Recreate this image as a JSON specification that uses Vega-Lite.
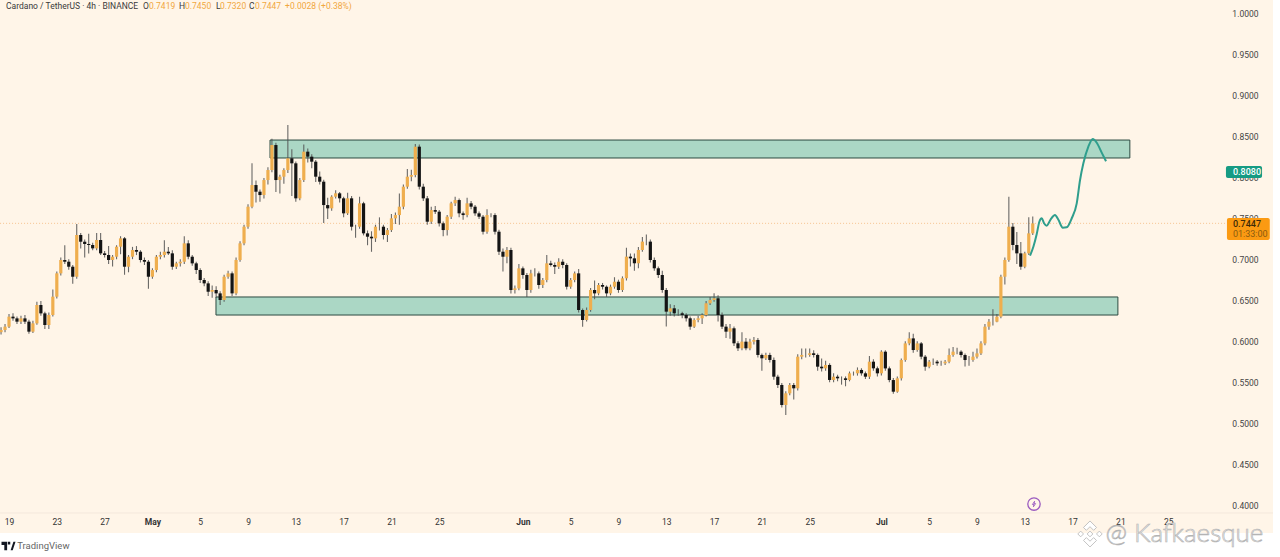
{
"$schema":"https://vega.github.io/schema/vega-lite/v6.json",
"width":1273,"height":533,
"autosize":{"type":"none"},
"padding":{"left":0,"top":0,"right":7,"bottom":24},
"background":"#ffffff",
"view":{"fill":"#FFF5E8","stroke":null},
"config":{"axis":{"title":null,"grid":false,"domain":false,"ticks":false,"tickSize":0},"text":{"font":"Roboto"}},
"datasets":{
"zones":[
{"name":"upper","t0":"2025-05-10T20:10Z","t1":"2025-07-21T19:00Z","p0":0.8463,"p1":0.8244},
{"name":"lower","t0":"2025-05-06T07:40Z","t1":"2025-07-20T19:00Z","p0":0.6549,"p1":0.6329}],
"last":[{"t0":"2025-04-18T06:00Z","t1":"2025-07-29T22:00Z","p":0.7447}],
"paneEdge":[{"t0":"2025-04-18T06:00Z","t1":"2025-08-02T18:30Z","p":0.3915}],
"candles":[
{"t":"2025-04-18T08:00Z","o":0.6120,"h":0.618,"l":0.609,"c":0.6146},
{"t":"2025-04-18T16:00Z","o":0.6146,"h":0.622,"l":0.612,"c":0.6187},
{"t":"2025-04-19T00:00Z","o":0.6187,"h":0.634,"l":0.617,"c":0.6309},
{"t":"2025-04-19T08:00Z","o":0.6309,"h":0.635,"l":0.626,"c":0.6288},
{"t":"2025-04-19T16:00Z","o":0.6288,"h":0.631,"l":0.622,"c":0.6248},
{"t":"2025-04-20T00:00Z","o":0.6248,"h":0.632,"l":0.622,"c":0.6288},
{"t":"2025-04-20T08:00Z","o":0.6288,"h":0.633,"l":0.622,"c":0.6248},
{"t":"2025-04-20T16:00Z","o":0.6248,"h":0.627,"l":0.610,"c":0.6126},
{"t":"2025-04-21T00:00Z","o":0.6126,"h":0.626,"l":0.611,"c":0.6227},
{"t":"2025-04-21T08:00Z","o":0.6227,"h":0.649,"l":0.621,"c":0.6451},
{"t":"2025-04-21T16:00Z","o":0.6451,"h":0.650,"l":0.632,"c":0.6349},
{"t":"2025-04-22T00:00Z","o":0.6349,"h":0.637,"l":0.616,"c":0.6207},
{"t":"2025-04-22T08:00Z","o":0.6207,"h":0.636,"l":0.616,"c":0.6329},
{"t":"2025-04-22T16:00Z","o":0.6329,"h":0.664,"l":0.631,"c":0.6553},
{"t":"2025-04-23T00:00Z","o":0.6553,"h":0.686,"l":0.653,"c":0.6837},
{"t":"2025-04-23T08:00Z","o":0.6837,"h":0.703,"l":0.681,"c":0.7000},
{"t":"2025-04-23T16:00Z","o":0.7000,"h":0.718,"l":0.695,"c":0.6979},
{"t":"2025-04-24T00:00Z","o":0.6979,"h":0.701,"l":0.688,"c":0.6918},
{"t":"2025-04-24T08:00Z","o":0.6918,"h":0.694,"l":0.671,"c":0.6796},
{"t":"2025-04-24T16:00Z","o":0.6796,"h":0.744,"l":0.677,"c":0.7305},
{"t":"2025-04-25T00:00Z","o":0.7305,"h":0.733,"l":0.714,"c":0.7223},
{"t":"2025-04-25T08:00Z","o":0.7223,"h":0.725,"l":0.703,"c":0.7195},
{"t":"2025-04-25T16:00Z","o":0.7195,"h":0.732,"l":0.708,"c":0.7183},
{"t":"2025-04-26T00:00Z","o":0.7183,"h":0.721,"l":0.712,"c":0.7142},
{"t":"2025-04-26T08:00Z","o":0.7142,"h":0.733,"l":0.712,"c":0.7244},
{"t":"2025-04-26T16:00Z","o":0.7244,"h":0.733,"l":0.706,"c":0.7081},
{"t":"2025-04-27T00:00Z","o":0.7081,"h":0.711,"l":0.703,"c":0.7061},
{"t":"2025-04-27T08:00Z","o":0.7061,"h":0.717,"l":0.695,"c":0.7000},
{"t":"2025-04-27T16:00Z","o":0.7000,"h":0.706,"l":0.692,"c":0.7040},
{"t":"2025-04-28T00:00Z","o":0.7040,"h":0.718,"l":0.701,"c":0.7162},
{"t":"2025-04-28T08:00Z","o":0.7162,"h":0.729,"l":0.707,"c":0.7264},
{"t":"2025-04-28T16:00Z","o":0.7264,"h":0.728,"l":0.682,"c":0.6918},
{"t":"2025-04-29T00:00Z","o":0.6918,"h":0.706,"l":0.685,"c":0.7040},
{"t":"2025-04-29T08:00Z","o":0.7040,"h":0.716,"l":0.701,"c":0.7122},
{"t":"2025-04-29T16:00Z","o":0.7122,"h":0.717,"l":0.706,"c":0.7101},
{"t":"2025-04-30T00:00Z","o":0.7101,"h":0.712,"l":0.697,"c":0.7000},
{"t":"2025-04-30T08:00Z","o":0.7000,"h":0.703,"l":0.694,"c":0.6979},
{"t":"2025-04-30T16:00Z","o":0.6979,"h":0.700,"l":0.665,"c":0.6796},
{"t":"2025-05-01T00:00Z","o":0.6796,"h":0.690,"l":0.677,"c":0.6878},
{"t":"2025-05-01T08:00Z","o":0.6878,"h":0.706,"l":0.685,"c":0.7040},
{"t":"2025-05-01T16:00Z","o":0.7040,"h":0.710,"l":0.701,"c":0.7061},
{"t":"2025-05-02T00:00Z","o":0.7061,"h":0.724,"l":0.703,"c":0.7101},
{"t":"2025-05-02T08:00Z","o":0.7101,"h":0.716,"l":0.706,"c":0.7081},
{"t":"2025-05-02T16:00Z","o":0.7081,"h":0.712,"l":0.688,"c":0.6918},
{"t":"2025-05-03T00:00Z","o":0.6918,"h":0.698,"l":0.689,"c":0.6959},
{"t":"2025-05-03T08:00Z","o":0.6959,"h":0.701,"l":0.692,"c":0.6979},
{"t":"2025-05-03T16:00Z","o":0.6979,"h":0.729,"l":0.695,"c":0.7203},
{"t":"2025-05-04T00:00Z","o":0.7203,"h":0.724,"l":0.701,"c":0.7040},
{"t":"2025-05-04T08:00Z","o":0.7040,"h":0.706,"l":0.693,"c":0.6959},
{"t":"2025-05-04T16:00Z","o":0.6959,"h":0.698,"l":0.683,"c":0.6878},
{"t":"2025-05-05T00:00Z","o":0.6878,"h":0.690,"l":0.672,"c":0.6756},
{"t":"2025-05-05T08:00Z","o":0.6756,"h":0.678,"l":0.668,"c":0.6715},
{"t":"2025-05-05T16:00Z","o":0.6715,"h":0.674,"l":0.656,"c":0.6613},
{"t":"2025-05-06T00:00Z","o":0.6613,"h":0.669,"l":0.654,"c":0.6634},
{"t":"2025-05-06T08:00Z","o":0.6634,"h":0.668,"l":0.654,"c":0.6593},
{"t":"2025-05-06T16:00Z","o":0.6593,"h":0.662,"l":0.645,"c":0.6512},
{"t":"2025-05-07T00:00Z","o":0.6512,"h":0.682,"l":0.649,"c":0.6796},
{"t":"2025-05-07T08:00Z","o":0.6796,"h":0.687,"l":0.677,"c":0.6837},
{"t":"2025-05-07T16:00Z","o":0.6837,"h":0.686,"l":0.656,"c":0.6593},
{"t":"2025-05-08T00:00Z","o":0.6593,"h":0.703,"l":0.657,"c":0.7000},
{"t":"2025-05-08T08:00Z","o":0.7000,"h":0.723,"l":0.698,"c":0.7203},
{"t":"2025-05-08T16:00Z","o":0.7203,"h":0.743,"l":0.718,"c":0.7406},
{"t":"2025-05-09T00:00Z","o":0.7406,"h":0.768,"l":0.738,"c":0.7650},
{"t":"2025-05-09T08:00Z","o":0.7650,"h":0.818,"l":0.763,"c":0.7914},
{"t":"2025-05-09T16:00Z","o":0.7914,"h":0.797,"l":0.770,"c":0.7833},
{"t":"2025-05-10T00:00Z","o":0.7833,"h":0.786,"l":0.771,"c":0.7792},
{"t":"2025-05-10T08:00Z","o":0.7792,"h":0.800,"l":0.775,"c":0.7975},
{"t":"2025-05-10T16:00Z","o":0.7975,"h":0.813,"l":0.792,"c":0.8097},
{"t":"2025-05-11T00:00Z","o":0.8097,"h":0.848,"l":0.807,"c":0.8402},
{"t":"2025-05-11T08:00Z","o":0.8402,"h":0.843,"l":0.783,"c":0.7975},
{"t":"2025-05-11T16:00Z","o":0.7975,"h":0.804,"l":0.781,"c":0.8016},
{"t":"2025-05-12T00:00Z","o":0.8016,"h":0.812,"l":0.793,"c":0.8097},
{"t":"2025-05-12T08:00Z","o":0.8097,"h":0.8646,"l":0.806,"c":0.8240},
{"t":"2025-05-12T16:00Z","o":0.8240,"h":0.835,"l":0.778,"c":0.8179},
{"t":"2025-05-13T00:00Z","o":0.8179,"h":0.820,"l":0.771,"c":0.7752},
{"t":"2025-05-13T08:00Z","o":0.7752,"h":0.800,"l":0.773,"c":0.7975},
{"t":"2025-05-13T16:00Z","o":0.7975,"h":0.841,"l":0.795,"c":0.8321},
{"t":"2025-05-14T00:00Z","o":0.8321,"h":0.836,"l":0.819,"c":0.8260},
{"t":"2025-05-14T08:00Z","o":0.8260,"h":0.829,"l":0.812,"c":0.8199},
{"t":"2025-05-14T16:00Z","o":0.8199,"h":0.822,"l":0.795,"c":0.8016},
{"t":"2025-05-15T00:00Z","o":0.8016,"h":0.808,"l":0.792,"c":0.7955},
{"t":"2025-05-15T08:00Z","o":0.7955,"h":0.798,"l":0.745,"c":0.7670},
{"t":"2025-05-15T16:00Z","o":0.7670,"h":0.776,"l":0.750,"c":0.7630},
{"t":"2025-05-16T00:00Z","o":0.7630,"h":0.779,"l":0.760,"c":0.7772},
{"t":"2025-05-16T08:00Z","o":0.7772,"h":0.785,"l":0.775,"c":0.7813},
{"t":"2025-05-16T16:00Z","o":0.7813,"h":0.783,"l":0.770,"c":0.7752},
{"t":"2025-05-17T00:00Z","o":0.7752,"h":0.777,"l":0.752,"c":0.7569},
{"t":"2025-05-17T08:00Z","o":0.7569,"h":0.782,"l":0.755,"c":0.7752},
{"t":"2025-05-17T16:00Z","o":0.7752,"h":0.778,"l":0.736,"c":0.7406},
{"t":"2025-05-18T00:00Z","o":0.7406,"h":0.743,"l":0.727,"c":0.7406},
{"t":"2025-05-18T08:00Z","o":0.7406,"h":0.777,"l":0.738,"c":0.7691},
{"t":"2025-05-18T16:00Z","o":0.7691,"h":0.771,"l":0.730,"c":0.7325},
{"t":"2025-05-19T00:00Z","o":0.7325,"h":0.736,"l":0.718,"c":0.7284},
{"t":"2025-05-19T08:00Z","o":0.7284,"h":0.735,"l":0.710,"c":0.7264},
{"t":"2025-05-19T16:00Z","o":0.7264,"h":0.743,"l":0.722,"c":0.7406},
{"t":"2025-05-20T00:00Z","o":0.7406,"h":0.752,"l":0.736,"c":0.7406},
{"t":"2025-05-20T08:00Z","o":0.7406,"h":0.743,"l":0.725,"c":0.7305},
{"t":"2025-05-20T16:00Z","o":0.7305,"h":0.739,"l":0.722,"c":0.7365},
{"t":"2025-05-21T00:00Z","o":0.7365,"h":0.756,"l":0.734,"c":0.7508},
{"t":"2025-05-21T08:00Z","o":0.7508,"h":0.758,"l":0.744,"c":0.7548},
{"t":"2025-05-21T16:00Z","o":0.7548,"h":0.781,"l":0.743,"c":0.7650},
{"t":"2025-05-22T00:00Z","o":0.7650,"h":0.792,"l":0.762,"c":0.7894},
{"t":"2025-05-22T08:00Z","o":0.7894,"h":0.811,"l":0.787,"c":0.8016},
{"t":"2025-05-22T16:00Z","o":0.8016,"h":0.810,"l":0.796,"c":0.8036},
{"t":"2025-05-23T00:00Z","o":0.8036,"h":0.8414,"l":0.801,"c":0.8382},
{"t":"2025-05-23T08:00Z","o":0.8382,"h":0.841,"l":0.786,"c":0.7894},
{"t":"2025-05-23T16:00Z","o":0.7894,"h":0.793,"l":0.772,"c":0.7752},
{"t":"2025-05-24T00:00Z","o":0.7752,"h":0.778,"l":0.743,"c":0.7467},
{"t":"2025-05-24T08:00Z","o":0.7467,"h":0.765,"l":0.744,"c":0.7609},
{"t":"2025-05-24T16:00Z","o":0.7609,"h":0.766,"l":0.756,"c":0.7589},
{"t":"2025-05-25T00:00Z","o":0.7589,"h":0.761,"l":0.741,"c":0.7447},
{"t":"2025-05-25T08:00Z","o":0.7447,"h":0.747,"l":0.729,"c":0.7365},
{"t":"2025-05-25T16:00Z","o":0.7365,"h":0.755,"l":0.730,"c":0.7528},
{"t":"2025-05-26T00:00Z","o":0.7528,"h":0.771,"l":0.750,"c":0.7691},
{"t":"2025-05-26T08:00Z","o":0.7691,"h":0.777,"l":0.766,"c":0.7731},
{"t":"2025-05-26T16:00Z","o":0.7731,"h":0.775,"l":0.752,"c":0.7569},
{"t":"2025-05-27T00:00Z","o":0.7569,"h":0.759,"l":0.749,"c":0.7548},
{"t":"2025-05-27T08:00Z","o":0.7548,"h":0.776,"l":0.752,"c":0.7691},
{"t":"2025-05-27T16:00Z","o":0.7691,"h":0.772,"l":0.762,"c":0.7650},
{"t":"2025-05-28T00:00Z","o":0.7650,"h":0.767,"l":0.754,"c":0.7569},
{"t":"2025-05-28T08:00Z","o":0.7569,"h":0.759,"l":0.750,"c":0.7528},
{"t":"2025-05-28T16:00Z","o":0.7528,"h":0.755,"l":0.731,"c":0.7345},
{"t":"2025-05-29T00:00Z","o":0.7345,"h":0.762,"l":0.732,"c":0.7548},
{"t":"2025-05-29T08:00Z","o":0.7548,"h":0.757,"l":0.752,"c":0.7548},
{"t":"2025-05-29T16:00Z","o":0.7548,"h":0.757,"l":0.731,"c":0.7345},
{"t":"2025-05-30T00:00Z","o":0.7345,"h":0.737,"l":0.706,"c":0.7101},
{"t":"2025-05-30T08:00Z","o":0.7101,"h":0.714,"l":0.686,"c":0.7040},
{"t":"2025-05-30T16:00Z","o":0.7040,"h":0.716,"l":0.696,"c":0.7122},
{"t":"2025-05-31T00:00Z","o":0.7122,"h":0.715,"l":0.659,"c":0.6634},
{"t":"2025-05-31T08:00Z","o":0.6634,"h":0.669,"l":0.659,"c":0.6654},
{"t":"2025-05-31T16:00Z","o":0.6654,"h":0.695,"l":0.663,"c":0.6898},
{"t":"2025-06-01T00:00Z","o":0.6898,"h":0.692,"l":0.677,"c":0.6817},
{"t":"2025-06-01T08:00Z","o":0.6817,"h":0.684,"l":0.655,"c":0.6634},
{"t":"2025-06-01T16:00Z","o":0.6634,"h":0.688,"l":0.660,"c":0.6837},
{"t":"2025-06-02T00:00Z","o":0.6837,"h":0.690,"l":0.680,"c":0.6837},
{"t":"2025-06-02T08:00Z","o":0.6837,"h":0.686,"l":0.665,"c":0.6695},
{"t":"2025-06-02T16:00Z","o":0.6695,"h":0.678,"l":0.666,"c":0.6756},
{"t":"2025-06-03T00:00Z","o":0.6756,"h":0.706,"l":0.673,"c":0.6959},
{"t":"2025-06-03T08:00Z","o":0.6959,"h":0.699,"l":0.692,"c":0.6939},
{"t":"2025-06-03T16:00Z","o":0.6939,"h":0.697,"l":0.683,"c":0.6918},
{"t":"2025-06-04T00:00Z","o":0.6918,"h":0.702,"l":0.689,"c":0.6979},
{"t":"2025-06-04T08:00Z","o":0.6979,"h":0.701,"l":0.690,"c":0.6939},
{"t":"2025-06-04T16:00Z","o":0.6939,"h":0.696,"l":0.664,"c":0.6674},
{"t":"2025-06-05T00:00Z","o":0.6674,"h":0.678,"l":0.665,"c":0.6756},
{"t":"2025-06-05T08:00Z","o":0.6756,"h":0.686,"l":0.673,"c":0.6837},
{"t":"2025-06-05T16:00Z","o":0.6837,"h":0.689,"l":0.636,"c":0.6390},
{"t":"2025-06-06T00:00Z","o":0.6390,"h":0.641,"l":0.6187,"c":0.6268},
{"t":"2025-06-06T08:00Z","o":0.6268,"h":0.642,"l":0.625,"c":0.6390},
{"t":"2025-06-06T16:00Z","o":0.6390,"h":0.666,"l":0.637,"c":0.6634},
{"t":"2025-06-07T00:00Z","o":0.6634,"h":0.675,"l":0.652,"c":0.6593},
{"t":"2025-06-07T08:00Z","o":0.6593,"h":0.672,"l":0.657,"c":0.6695},
{"t":"2025-06-07T16:00Z","o":0.6695,"h":0.672,"l":0.664,"c":0.6674},
{"t":"2025-06-08T00:00Z","o":0.6674,"h":0.669,"l":0.655,"c":0.6593},
{"t":"2025-06-08T08:00Z","o":0.6593,"h":0.670,"l":0.657,"c":0.6674},
{"t":"2025-06-08T16:00Z","o":0.6674,"h":0.679,"l":0.665,"c":0.6735},
{"t":"2025-06-09T00:00Z","o":0.6735,"h":0.676,"l":0.660,"c":0.6634},
{"t":"2025-06-09T08:00Z","o":0.6634,"h":0.680,"l":0.661,"c":0.6777},
{"t":"2025-06-09T16:00Z","o":0.6777,"h":0.715,"l":0.675,"c":0.7041},
{"t":"2025-06-10T00:00Z","o":0.7041,"h":0.708,"l":0.692,"c":0.7020},
{"t":"2025-06-10T08:00Z","o":0.7020,"h":0.708,"l":0.687,"c":0.6960},
{"t":"2025-06-10T16:00Z","o":0.6960,"h":0.716,"l":0.690,"c":0.7122},
{"t":"2025-06-11T00:00Z","o":0.7122,"h":0.728,"l":0.710,"c":0.7224},
{"t":"2025-06-11T08:00Z","o":0.7224,"h":0.731,"l":0.718,"c":0.7224},
{"t":"2025-06-11T16:00Z","o":0.7224,"h":0.725,"l":0.697,"c":0.7000},
{"t":"2025-06-12T00:00Z","o":0.7000,"h":0.703,"l":0.687,"c":0.6899},
{"t":"2025-06-12T08:00Z","o":0.6899,"h":0.692,"l":0.678,"c":0.6817},
{"t":"2025-06-12T16:00Z","o":0.6817,"h":0.687,"l":0.660,"c":0.6634},
{"t":"2025-06-13T00:00Z","o":0.6634,"h":0.666,"l":0.619,"c":0.6370},
{"t":"2025-06-13T08:00Z","o":0.6370,"h":0.646,"l":0.632,"c":0.6411},
{"t":"2025-06-13T16:00Z","o":0.6411,"h":0.645,"l":0.631,"c":0.6350},
{"t":"2025-06-14T00:00Z","o":0.6350,"h":0.640,"l":0.632,"c":0.6350},
{"t":"2025-06-14T08:00Z","o":0.6350,"h":0.637,"l":0.629,"c":0.6330},
{"t":"2025-06-14T16:00Z","o":0.6330,"h":0.635,"l":0.625,"c":0.6289},
{"t":"2025-06-15T00:00Z","o":0.6289,"h":0.631,"l":0.615,"c":0.6187},
{"t":"2025-06-15T08:00Z","o":0.6187,"h":0.629,"l":0.617,"c":0.6269},
{"t":"2025-06-15T16:00Z","o":0.6269,"h":0.632,"l":0.624,"c":0.6289},
{"t":"2025-06-16T00:00Z","o":0.6289,"h":0.635,"l":0.622,"c":0.6329},
{"t":"2025-06-16T08:00Z","o":0.6329,"h":0.650,"l":0.631,"c":0.6472},
{"t":"2025-06-16T16:00Z","o":0.6472,"h":0.655,"l":0.645,"c":0.6512},
{"t":"2025-06-17T00:00Z","o":0.6512,"h":0.6595,"l":0.649,"c":0.6533},
{"t":"2025-06-17T08:00Z","o":0.6533,"h":0.657,"l":0.625,"c":0.6329},
{"t":"2025-06-17T16:00Z","o":0.6329,"h":0.636,"l":0.616,"c":0.6187},
{"t":"2025-06-18T00:00Z","o":0.6187,"h":0.622,"l":0.605,"c":0.6126},
{"t":"2025-06-18T08:00Z","o":0.6126,"h":0.622,"l":0.604,"c":0.6167},
{"t":"2025-06-18T16:00Z","o":0.6167,"h":0.619,"l":0.595,"c":0.5984},
{"t":"2025-06-19T00:00Z","o":0.5984,"h":0.601,"l":0.589,"c":0.5923},
{"t":"2025-06-19T08:00Z","o":0.5923,"h":0.612,"l":0.590,"c":0.6004},
{"t":"2025-06-19T16:00Z","o":0.6004,"h":0.605,"l":0.590,"c":0.5923},
{"t":"2025-06-20T00:00Z","o":0.5923,"h":0.604,"l":0.590,"c":0.6004},
{"t":"2025-06-20T08:00Z","o":0.6004,"h":0.606,"l":0.597,"c":0.6025},
{"t":"2025-06-20T16:00Z","o":0.6025,"h":0.605,"l":0.581,"c":0.5842},
{"t":"2025-06-21T00:00Z","o":0.5842,"h":0.586,"l":0.565,"c":0.5801},
{"t":"2025-06-21T08:00Z","o":0.5801,"h":0.587,"l":0.578,"c":0.5842},
{"t":"2025-06-21T16:00Z","o":0.5842,"h":0.587,"l":0.575,"c":0.5781},
{"t":"2025-06-22T00:00Z","o":0.5781,"h":0.581,"l":0.554,"c":0.5577},
{"t":"2025-06-22T08:00Z","o":0.5577,"h":0.560,"l":0.544,"c":0.5476},
{"t":"2025-06-22T16:00Z","o":0.5476,"h":0.550,"l":0.520,"c":0.5232},
{"t":"2025-06-23T00:00Z","o":0.5232,"h":0.540,"l":0.511,"c":0.5374},
{"t":"2025-06-23T08:00Z","o":0.5374,"h":0.550,"l":0.535,"c":0.5476},
{"t":"2025-06-23T16:00Z","o":0.5476,"h":0.550,"l":0.530,"c":0.5435},
{"t":"2025-06-24T00:00Z","o":0.5435,"h":0.585,"l":0.541,"c":0.5821},
{"t":"2025-06-24T08:00Z","o":0.5821,"h":0.592,"l":0.579,"c":0.5842},
{"t":"2025-06-24T16:00Z","o":0.5842,"h":0.592,"l":0.581,"c":0.5842},
{"t":"2025-06-25T00:00Z","o":0.5842,"h":0.592,"l":0.582,"c":0.5862},
{"t":"2025-06-25T08:00Z","o":0.5862,"h":0.590,"l":0.581,"c":0.5842},
{"t":"2025-06-25T16:00Z","o":0.5842,"h":0.586,"l":0.565,"c":0.5699},
{"t":"2025-06-26T00:00Z","o":0.5699,"h":0.580,"l":0.564,"c":0.5679},
{"t":"2025-06-26T08:00Z","o":0.5679,"h":0.577,"l":0.565,"c":0.5720},
{"t":"2025-06-26T16:00Z","o":0.5720,"h":0.574,"l":0.551,"c":0.5537},
{"t":"2025-06-27T00:00Z","o":0.5537,"h":0.562,"l":0.551,"c":0.5577},
{"t":"2025-06-27T08:00Z","o":0.5577,"h":0.560,"l":0.552,"c":0.5557},
{"t":"2025-06-27T16:00Z","o":0.5557,"h":0.558,"l":0.548,"c":0.5557},
{"t":"2025-06-28T00:00Z","o":0.5557,"h":0.558,"l":0.546,"c":0.5537},
{"t":"2025-06-28T08:00Z","o":0.5537,"h":0.564,"l":0.552,"c":0.5618},
{"t":"2025-06-28T16:00Z","o":0.5618,"h":0.564,"l":0.559,"c":0.5618},
{"t":"2025-06-29T00:00Z","o":0.5618,"h":0.569,"l":0.559,"c":0.5659},
{"t":"2025-06-29T08:00Z","o":0.5659,"h":0.568,"l":0.559,"c":0.5618},
{"t":"2025-06-29T16:00Z","o":0.5618,"h":0.564,"l":0.555,"c":0.5577},
{"t":"2025-06-30T00:00Z","o":0.5577,"h":0.583,"l":0.555,"c":0.5760},
{"t":"2025-06-30T08:00Z","o":0.5760,"h":0.579,"l":0.565,"c":0.5679},
{"t":"2025-06-30T16:00Z","o":0.5679,"h":0.570,"l":0.558,"c":0.5618},
{"t":"2025-07-01T00:00Z","o":0.5618,"h":0.590,"l":0.559,"c":0.5882},
{"t":"2025-07-01T08:00Z","o":0.5882,"h":0.590,"l":0.565,"c":0.5678},
{"t":"2025-07-01T16:00Z","o":0.5678,"h":0.570,"l":0.551,"c":0.5536},
{"t":"2025-07-02T00:00Z","o":0.5536,"h":0.556,"l":0.537,"c":0.5394},
{"t":"2025-07-02T08:00Z","o":0.5394,"h":0.558,"l":0.538,"c":0.5557},
{"t":"2025-07-02T16:00Z","o":0.5557,"h":0.580,"l":0.553,"c":0.5780},
{"t":"2025-07-03T00:00Z","o":0.5780,"h":0.601,"l":0.576,"c":0.5983},
{"t":"2025-07-03T08:00Z","o":0.5983,"h":0.612,"l":0.596,"c":0.6044},
{"t":"2025-07-03T16:00Z","o":0.6044,"h":0.610,"l":0.587,"c":0.5902},
{"t":"2025-07-04T00:00Z","o":0.5902,"h":0.601,"l":0.588,"c":0.5983},
{"t":"2025-07-04T08:00Z","o":0.5983,"h":0.600,"l":0.579,"c":0.5821},
{"t":"2025-07-04T16:00Z","o":0.5821,"h":0.584,"l":0.565,"c":0.5699},
{"t":"2025-07-05T00:00Z","o":0.5699,"h":0.578,"l":0.568,"c":0.5760},
{"t":"2025-07-05T08:00Z","o":0.5760,"h":0.580,"l":0.572,"c":0.5760},
{"t":"2025-07-05T16:00Z","o":0.5760,"h":0.578,"l":0.571,"c":0.5740},
{"t":"2025-07-06T00:00Z","o":0.5740,"h":0.577,"l":0.571,"c":0.5740},
{"t":"2025-07-06T08:00Z","o":0.5740,"h":0.578,"l":0.572,"c":0.5760},
{"t":"2025-07-06T16:00Z","o":0.5760,"h":0.592,"l":0.574,"c":0.5841},
{"t":"2025-07-07T00:00Z","o":0.5841,"h":0.594,"l":0.582,"c":0.5882},
{"t":"2025-07-07T08:00Z","o":0.5882,"h":0.593,"l":0.585,"c":0.5882},
{"t":"2025-07-07T16:00Z","o":0.5882,"h":0.590,"l":0.581,"c":0.5841},
{"t":"2025-07-08T00:00Z","o":0.5841,"h":0.586,"l":0.570,"c":0.5780},
{"t":"2025-07-08T08:00Z","o":0.5780,"h":0.583,"l":0.571,"c":0.5780},
{"t":"2025-07-08T16:00Z","o":0.5780,"h":0.588,"l":0.576,"c":0.5821},
{"t":"2025-07-09T00:00Z","o":0.5821,"h":0.592,"l":0.580,"c":0.5861},
{"t":"2025-07-09T08:00Z","o":0.5861,"h":0.601,"l":0.584,"c":0.5983},
{"t":"2025-07-09T16:00Z","o":0.5983,"h":0.622,"l":0.596,"c":0.6187},
{"t":"2025-07-10T00:00Z","o":0.6187,"h":0.628,"l":0.615,"c":0.6248},
{"t":"2025-07-10T08:00Z","o":0.6248,"h":0.640,"l":0.620,"c":0.6248},
{"t":"2025-07-10T16:00Z","o":0.6248,"h":0.634,"l":0.624,"c":0.6309},
{"t":"2025-07-11T00:00Z","o":0.6309,"h":0.682,"l":0.629,"c":0.6796},
{"t":"2025-07-11T08:00Z","o":0.6796,"h":0.703,"l":0.670,"c":0.7000},
{"t":"2025-07-11T16:00Z","o":0.7000,"h":0.7772,"l":0.698,"c":0.7406},
{"t":"2025-07-12T00:00Z","o":0.7406,"h":0.745,"l":0.712,"c":0.7183},
{"t":"2025-07-12T08:00Z","o":0.7183,"h":0.734,"l":0.695,"c":0.7081},
{"t":"2025-07-12T16:00Z","o":0.7081,"h":0.722,"l":0.688,"c":0.6918},
{"t":"2025-07-13T00:00Z","o":0.6918,"h":0.710,"l":0.690,"c":0.7081},
{"t":"2025-07-13T08:00Z","o":0.7081,"h":0.752,"l":0.706,"c":0.7325},
{"t":"2025-07-13T16:00Z","o":0.7325,"h":0.7530,"l":0.7305,"c":0.7447}],
"forecast":[
{"t":"2025-07-13T10:30Z","p":0.7052},{"t":"2025-07-13T17:15Z","p":0.7162},{"t":"2025-07-14T00:00Z","p":0.7317},
{"t":"2025-07-14T05:15Z","p":0.7467},{"t":"2025-07-14T10:00Z","p":0.7509},{"t":"2025-07-14T14:40Z","p":0.7448},
{"t":"2025-07-14T20:10Z","p":0.7418},{"t":"2025-07-15T04:00Z","p":0.7496},{"t":"2025-07-15T12:40Z","p":0.7549},
{"t":"2025-07-15T19:30Z","p":0.7490},{"t":"2025-07-16T04:20Z","p":0.7394},{"t":"2025-07-16T12:15Z","p":0.7399},
{"t":"2025-07-16T22:20Z","p":0.7509},{"t":"2025-07-17T08:20Z","p":0.7691},{"t":"2025-07-17T15:00Z","p":0.7976},
{"t":"2025-07-17T21:40Z","p":0.8179},{"t":"2025-07-18T07:40Z","p":0.8382},{"t":"2025-07-18T16:30Z","p":0.8476},
{"t":"2025-07-19T00:30Z","p":0.8430},{"t":"2025-07-19T10:30Z","p":0.8309},{"t":"2025-07-19T19:10Z","p":0.8204}],
"badges":[
{"b":"target","t0":"2025-07-29T20:00Z","t1":"2025-08-01T20:30Z","p0":0.8146,"p1":0.8000},
{"b":"last","t0":"2025-07-29T22:00Z","t1":"2025-08-02T12:00Z","p0":0.7512,"p1":0.7244}]
},
"layer":[
{"data":{"name":"zones"},"mark":{"type":"rect","fill":"#ABD7C5","stroke":"#2C4A41","strokeWidth":1},
 "encoding":{
  "x":{"field":"t0","type":"temporal",
   "scale":{"type":"utc","domain":[{"year":2025,"month":4,"date":18,"hours":5,"minutes":54,"utc":true},{"year":2025,"month":8,"date":2,"hours":18,"minutes":30,"utc":true}]},
   "axis":{"orient":"bottom","labelPadding":-16,"labelBaseline":"top","labelFont":"Roboto","labelFontSize":8.5,"labelColor":"#333333","labelFlush":false,"labelOverlap":false,"labelBound":false,
    "labelFontWeight":{"condition":{"test":"utcdate(datum.value)==1","value":"bold"},"value":"normal"},
    "labelExpr":"utcdate(datum.value)==1 ? utcFormat(datum.value,'%b') : utcFormat(datum.value,'%-d')",
    "values":[{"year":2025,"month":4,"date":19,"utc":true},{"year":2025,"month":4,"date":23,"utc":true},{"year":2025,"month":4,"date":27,"utc":true},{"year":2025,"month":5,"date":1,"utc":true},{"year":2025,"month":5,"date":5,"utc":true},{"year":2025,"month":5,"date":9,"utc":true},{"year":2025,"month":5,"date":13,"utc":true},{"year":2025,"month":5,"date":17,"utc":true},{"year":2025,"month":5,"date":21,"utc":true},{"year":2025,"month":5,"date":25,"utc":true},{"year":2025,"month":6,"date":1,"utc":true},{"year":2025,"month":6,"date":5,"utc":true},{"year":2025,"month":6,"date":9,"utc":true},{"year":2025,"month":6,"date":13,"utc":true},{"year":2025,"month":6,"date":17,"utc":true},{"year":2025,"month":6,"date":21,"utc":true},{"year":2025,"month":6,"date":25,"utc":true},{"year":2025,"month":7,"date":1,"utc":true},{"year":2025,"month":7,"date":5,"utc":true},{"year":2025,"month":7,"date":9,"utc":true},{"year":2025,"month":7,"date":13,"utc":true},{"year":2025,"month":7,"date":17,"utc":true},{"year":2025,"month":7,"date":21,"utc":true},{"year":2025,"month":7,"date":25,"utc":true}]}},
  "x2":{"field":"t1"},
  "y":{"field":"p0","type":"quantitative",
   "scale":{"domain":[0.36707,1.01707],"nice":false,"zero":false},
   "axis":{"orient":"right","labelPadding":-15,"labelAlign":"right","labelFont":"Roboto","labelFontSize":8.5,"labelColor":"#444444","format":".4f","values":[0.4,0.45,0.5,0.55,0.6,0.65,0.7,0.75,0.8,0.85,0.9,0.95,1.0]}},
  "y2":{"field":"p1"}}},
{"data":{"name":"paneEdge"},"mark":{"type":"rule","stroke":"#F4EADC","strokeWidth":1},
 "encoding":{"x":{"field":"t0","type":"temporal"},"x2":{"field":"t1"},"y":{"field":"p","type":"quantitative"}}},
{"data":{"name":"last"},"mark":{"type":"rule","stroke":"#F4B878","strokeWidth":0.8,"strokeDash":[1,2]},
 "encoding":{"x":{"field":"t0","type":"temporal"},"x2":{"field":"t1"},"y":{"field":"p","type":"quantitative"}}},
{"data":{"name":"candles"},"mark":{"type":"rule","stroke":"#505050","strokeWidth":1.1,"opacity":0.85},
 "encoding":{"x":{"field":"t","type":"temporal"},"y":{"field":"l","type":"quantitative"},"y2":{"field":"h"}}},
{"data":{"name":"candles"},"mark":{"type":"rule","strokeWidth":3.2},
 "encoding":{"x":{"field":"t","type":"temporal"},"y":{"field":"o","type":"quantitative"},"y2":{"field":"c"},
  "color":{"condition":{"test":"datum.c>=datum.o","value":"#EFAE4E"},"value":"#141414"}}},
{"data":{"name":"forecast"},"mark":{"type":"line","stroke":"#2F9E8D","strokeWidth":2,"interpolate":"monotone"},
 "encoding":{"x":{"field":"t","type":"temporal"},"y":{"field":"p","type":"quantitative"}}},
{"data":{"name":"badges"},"transform":[{"filter":"datum.b=='target'"}],"mark":{"type":"rect","fill":"#169B83","cornerRadius":2},
 "encoding":{"x":{"field":"t0","type":"temporal"},"x2":{"field":"t1"},"y":{"field":"p0","type":"quantitative"},"y2":{"field":"p1"}}},
{"data":{"name":"badges"},"transform":[{"filter":"datum.b=='last'"}],"mark":{"type":"rect","fill":"#FB9A12","cornerRadius":2},
 "encoding":{"x":{"field":"t0","type":"temporal"},"x2":{"field":"t1"},"y":{"field":"p0","type":"quantitative"},"y2":{"field":"p1"}}},
{"data":{"values":[{"t":"2025-07-30T10:00Z","p":0.8073,"s":"0.8080"}]},"mark":{"type":"text","align":"left","baseline":"middle","fontSize":9,"fontWeight":500,"fill":"#ffffff"},
 "encoding":{"x":{"field":"t","type":"temporal"},"y":{"field":"p","type":"quantitative"},"text":{"field":"s"}}},
{"data":{"values":[{"t":"2025-07-30T10:00Z","p":0.7439,"s":"0.7447"}]},"mark":{"type":"text","align":"left","baseline":"middle","fontSize":9,"fontWeight":500,"fill":"#3d2a08"},
 "encoding":{"x":{"field":"t","type":"temporal"},"y":{"field":"p","type":"quantitative"},"text":{"field":"s"}}},
{"data":{"values":[{"t":"2025-07-30T10:00Z","p":0.7317,"s":"01:33:00"}]},"mark":{"type":"text","align":"left","baseline":"middle","fontSize":9,"fill":"#8A5A10"},
 "encoding":{"x":{"field":"t","type":"temporal"},"y":{"field":"p","type":"quantitative"},"text":{"field":"s"}}},
{"data":{"values":[{"t":"2025-04-18T18:00Z","p":1.0098,"s":"Cardano / TetherUS · 4h · BINANCE"},{"t":"2025-04-30T05:00Z","p":1.0098,"s":"O"},{"t":"2025-05-03T05:30Z","p":1.0098,"s":"H"},{"t":"2025-05-06T07:40Z","p":1.0098,"s":"L"},{"t":"2025-05-09T02:00Z","p":1.0098,"s":"C"}]},
 "mark":{"type":"text","align":"left","baseline":"middle","fontSize":8.5,"fill":"#3a3a3a"},
 "encoding":{"x":{"field":"t","type":"temporal"},"y":{"field":"p","type":"quantitative"},"text":{"field":"s"}}},
{"data":{"values":[{"t":"2025-04-30T17:15Z","p":1.0098,"s":"0.7419"},{"t":"2025-05-03T17:30Z","p":1.0098,"s":"0.7450"},{"t":"2025-05-06T15:50Z","p":1.0098,"s":"0.7320"},{"t":"2025-05-09T14:00Z","p":1.0098,"s":"0.7447"},{"t":"2025-05-12T02:30Z","p":1.0098,"s":"+0.0028 (+0.38%)"}]},
 "mark":{"type":"text","align":"left","baseline":"middle","fontSize":8.5,"fill":"#F1A73E"},
 "encoding":{"x":{"field":"t","type":"temporal"},"y":{"field":"p","type":"quantitative"},"text":{"field":"s"}}},
{"data":{"values":[{"t":"2025-07-13T18:30Z","p":0.4024}]},"mark":{"type":"point","shape":"circle","size":154,"filled":false,"stroke":"#9B5BBF","strokeWidth":1.3,"opacity":1},
 "encoding":{"x":{"field":"t","type":"temporal"},"y":{"field":"p","type":"quantitative"}}},
{"data":{"values":[{"t":"2025-07-13T18:30Z","p":0.4024}]},"mark":{"type":"point","shape":"M.15,-.7 L-.4,.12 H-.02 L-.15,.7 L.4,-.12 H.02 Z","size":64,"filled":false,"stroke":"#9B5BBF","strokeWidth":0.9,"opacity":1},
 "encoding":{"x":{"field":"t","type":"temporal"},"y":{"field":"p","type":"quantitative"}}},
{"data":{"values":[{"t":"2025-04-18T23:00Z","p":0.3512}]},"mark":{"type":"point","shape":"M-1,-.6 H-.2 V.6 H-.6 V-.15 H-1 Z M-.1,-.6 H.25 V-.2 H-.1 Z M.3,.6 L.7,-.6 H1 L.6,.6 Z","size":196,"filled":true,"fill":"#131722","opacity":1},
 "encoding":{"x":{"field":"t","type":"temporal"},"y":{"field":"p","type":"quantitative"}}},
{"data":{"values":[{"t":"2025-04-19T16:30Z","p":0.3512,"s":"TradingView"}]},"mark":{"type":"text","align":"left","baseline":"middle","fontSize":9.5,"fill":"#666666"},
 "encoding":{"x":{"field":"t","type":"temporal"},"y":{"field":"p","type":"quantitative"},"text":{"field":"s"}}},
{"data":{"values":[{"t":"2025-07-18T11:00Z","p":0.3659}]},"mark":{"type":"point","shape":"M0,-1 L.5,-.5 L.28,-.28 L0,-.56 L-.28,-.28 L-.5,-.5 Z M0,1 L.5,.5 L.28,.28 L0,.56 L-.28,.28 L-.5,.5 Z M0,-.22 L.22,0 L0,.22 L-.22,0 Z M-.72,-.22 L-.5,0 L-.72,.22 L-.94,0 Z M.72,-.22 L.94,0 L.72,.22 L.5,0 Z","size":676,"filled":true,"fill":"#ffffff","stroke":"#b4b4b4","strokeWidth":0.8,"opacity":1},
 "encoding":{"x":{"field":"t","type":"temporal"},"y":{"field":"p","type":"quantitative"}}},
{"data":{"values":[{"t":"2025-07-19T18:00Z","p":0.3659,"s":"@ Kafkaesque"}]},"mark":{"type":"text","align":"left","baseline":"middle","font":"Lato","fontSize":26,"fontWeight":300,"fill":"#ffffff","stroke":"#b4b4b4","strokeWidth":0.7},
 "encoding":{"x":{"field":"t","type":"temporal"},"y":{"field":"p","type":"quantitative"},"text":{"field":"s"}}}
]
}
